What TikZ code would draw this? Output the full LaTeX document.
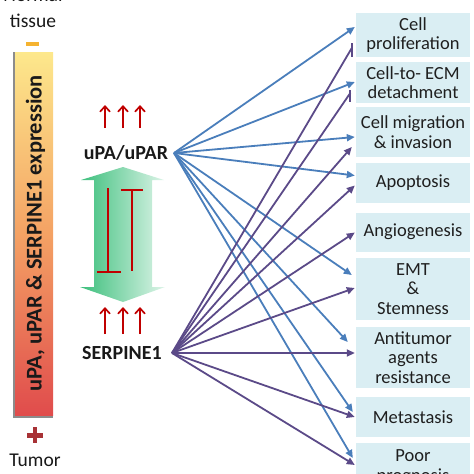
\documentclass[tikz,border=0pt]{standalone}
\usepackage{fontspec}
\setmainfont{Carlito}
\usetikzlibrary{arrows.meta}
\definecolor{boxfill}{HTML}{DAEEF3}
\definecolor{lblue}{HTML}{4A7EBB}
\definecolor{lpurple}{HTML}{5B4A88}
\definecolor{dred}{HTML}{C00000}
\definecolor{minusor}{HTML}{F5B330}
\definecolor{plusred}{HTML}{A83236}
\definecolor{gdark}{HTML}{3CBF7C}
\definecolor{glight}{HTML}{DDF4E8}
\definecolor{bartop}{HTML}{FDE88C}
\definecolor{barmid}{HTML}{F4A264}
\definecolor{barbot}{HTML}{E04C4C}
\begin{document}
\begin{tikzpicture}[x=1pt,y=-1pt,
  box/.style={fill=boxfill, minimum width=114pt, inner sep=1pt, align=center,
    font=\fontsize{18.5}{19.5}\selectfont, text=black!88},
  bl/.style={draw=lblue, line width=1.8pt, -{Triangle[length=8pt,width=7pt]}},
  pu/.style={draw=lpurple, line width=1.8pt, -{Triangle[length=8pt,width=7pt]}},
  puinh/.style={draw=lpurple, line width=1.8pt},
  redup/.style={draw=dred, line width=1.7pt, -{Straight Barb[length=5.5pt,width=10pt]}},
  inhib/.style={draw=dred, line width=2.2pt},
  lbl/.style={font=\fontsize{19.5}{26}\selectfont, align=center, text=black!90},
  bold/.style={font=\bfseries\fontsize{20}{22}\selectfont, text=black!90}
]
\useasboundingbox (0,0) rectangle (474,474);
\clip (0,0) rectangle (474,474);

% left expression bar
\fill[black!45] (13,52) rectangle (53,418);
\shade[top color=bartop, bottom color=barbot, middle color=barmid] (15,52) rectangle (53,415);
\node[rotate=90, font=\bfseries\fontsize{22.5}{22.5}\selectfont, text=black!90] (bt) at (35.5,233.5) {uPA, uPAR \& SERPINE1 expression};
\node[lbl] (nt) at (33,8) {Normal\\tissue};
\node[lbl] (tu) at (35,460) {Tumor};
\fill[minusor] (26,42) rectangle (39,45.5);
\fill[plusred] (27,433) rectangle (43,437.5);
\fill[plusred] (32.8,427) rectangle (37.2,443);

% green double arrow
\shade[left color=gdark, right color=glight]
  (123,167) -- (164,180) -- (152,180) -- (152,287) -- (165,287) -- (123,302)
  -- (80,287) -- (94,287) -- (94,180) -- (81,180) -- cycle;
\draw[inhib] (108,188) -- (108,272);
\draw[inhib] (97,272) -- (121,272);
\draw[inhib] (132,190) -- (132,271);
\draw[inhib] (121,190) -- (143,190);

% small red arrows
\foreach \x in {105,123,140} {
  \draw[redup] (\x,128) -- (\x,105);
  \draw[redup] (\x,334) -- (\x,307);
}

% labels
\node[bold] (upa) at (126,153) {uPA/uPAR};
\node[bold] (serp) at (122,353) {SERPINE1};
\coordinate (su) at (174,153);
\coordinate (ss) at (172,353);

% boxes
\node[box, minimum height=44pt] (b1) at (413,35) {Cell\\proliferation};
\node[box, minimum height=41pt] (b2) at (413,82.5) {Cell-to- ECM\\detachment};
\node[box, minimum height=50pt] (b3) at (413,132) {Cell migration\\\& invasion};
\node[box, minimum height=40pt] (b4) at (413,183) {Apoptosis};
\node[box, minimum height=39pt] (b5) at (413,232) {Angiogenesis};
\node[box, minimum height=62pt] (b6) at (413,289) {EMT\\\&\\Stemness};
\node[box, minimum height=61pt] (b7) at (413,357.5) {Antitumor\\agents\\resistance};
\node[box, minimum height=40pt] (b8) at (413,417) {Metastasis};
\node[box, minimum height=48pt] (b9) at (413,467) {Poor\\prognosis};

% blue connectors from uPA/uPAR
\draw[bl] (su) -- ([xshift=-1pt,yshift=8pt]b1.west);
\draw[bl] (su) -- ([xshift=-1pt,yshift=0.5pt]b2.west);
\draw[bl] (su) -- ([xshift=-1pt,yshift=-5pt]b3.west);
\draw[bl] (su) -- ([xshift=-1pt,yshift=7.5pt]b4.west);
\draw[bl] (su) -- ([xshift=-4pt,yshift=14pt]b6.west);
\draw[bl] (su) -- ([xshift=-8pt,yshift=15.5pt]b7.west);
\draw[bl] (su) -- ([xshift=-3pt,yshift=5pt]b8.west);
\draw[bl] (su) -- ([xshift=-3pt,yshift=9pt]b9.west);

% purple connectors from SERPINE1
\draw[puinh] (ss) -- ([xshift=-4pt,yshift=-13pt]b1.west);
\draw[puinh] ([xshift=-4pt,yshift=-8pt]b1.west) -- ([xshift=-4pt,yshift=-22pt]b1.west);
\draw[puinh] (ss) -- ([xshift=-5.5pt,yshift=-10.5pt]b2.west);
\draw[puinh] ([xshift=-5.5pt,yshift=-7.5pt]b2.west) -- ([xshift=-5.5pt,yshift=-19.5pt]b2.west);
\draw[pu] (ss) -- ([xshift=-4pt,yshift=-15pt]b3.west);
\draw[pu] (ss) -- ([xshift=-1pt,yshift=-2.5pt]b4.west);
\draw[pu] (ss) -- ([xshift=-1pt,yshift=-0.5pt]b5.west);
\draw[pu] (ss) -- ([xshift=-1pt,yshift=1pt]b6.west);
\draw[pu] (ss) -- ([xshift=-1pt,yshift=4.5pt]b7.west);
\draw[pu] (ss) -- ([xshift=-1pt,yshift=0pt]b8.west);
\draw[pu] (ss) -- ([xshift=-1pt,yshift=2pt]b9.west);
\end{tikzpicture}
\end{document}
